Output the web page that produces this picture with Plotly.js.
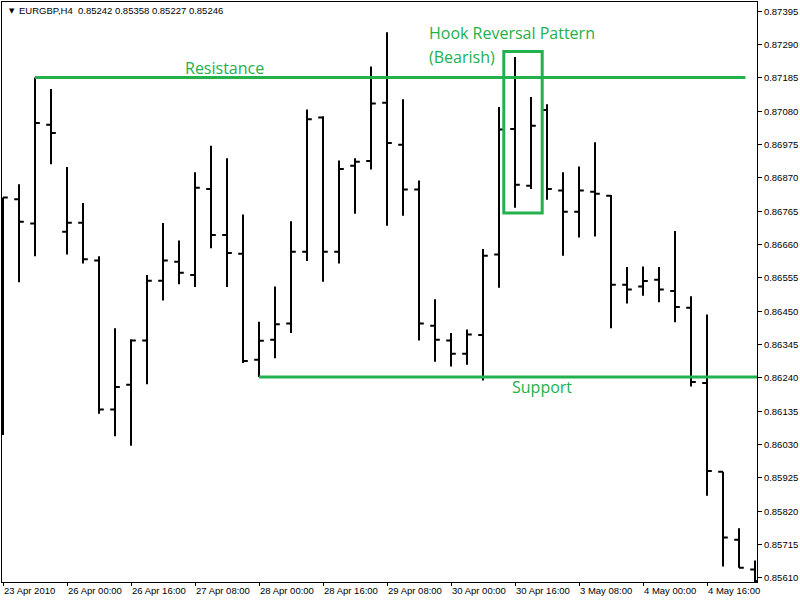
<!DOCTYPE html>
<html>
<head>
<meta charset="utf-8">
<script src="https://cdn.plot.ly/plotly-3.0.1.min.js"></script>
<style>
  html, body { margin: 0; padding: 0; background: #fff; }
  #chart { width: 800px; height: 600px; }
</style>
</head>
<body>
<div id="chart"></div>
<script>
/* EURGBP H4 bar chart, 23 Apr - 4 May 2010, with the
   support / resistance levels and the bearish hook marked. */
(function () {
  "use strict";

  /* ---- bars, one per 4 hours ---- */
  var OPEN  = [0.86790, 0.86803, 0.86726, 0.87037, 0.86700, 0.86729, 0.86610, 0.86140, 0.86218, 0.86358,
               0.86546, 0.86606, 0.86564, 0.86835, 0.86690, 0.86631, 0.86297, 0.86360, 0.86411, 0.86637,
               0.87060, 0.86637, 0.86908, 0.86923, 0.87107, 0.86974, 0.86833, 0.86404, 0.86358, 0.86316,
               0.86375, 0.86629, 0.87024, 0.86845, 0.87084, 0.86830, 0.86763, 0.86826, 0.86814, 0.86533,
               0.86528, 0.86549, 0.86514, 0.86461, 0.86224, 0.85944, 0.85730, 0.85636];
  var HIGH  = [0.86808, 0.86850, 0.87186, 0.87150, 0.86904, 0.86791, 0.86623, 0.86396, 0.86362, 0.86564,
               0.86728, 0.86673, 0.86888, 0.86971, 0.86932, 0.86755, 0.86417, 0.86528, 0.86733, 0.87085,
               0.87064, 0.86925, 0.86932, 0.87221, 0.87329, 0.87118, 0.86862, 0.86488, 0.86381, 0.86392,
               0.86646, 0.87093, 0.87251, 0.87125, 0.87102, 0.86888, 0.86906, 0.86982, 0.86816, 0.86589,
               0.86591, 0.86589, 0.86703, 0.86497, 0.86440, 0.85944, 0.85766, 0.85665];
  var LOW   = [0.86060, 0.86541, 0.86623, 0.86913, 0.86629, 0.86600, 0.86127, 0.86056, 0.86026, 0.86220,
               0.86484, 0.86535, 0.86526, 0.86648, 0.86526, 0.86287, 0.86243, 0.86302, 0.86381, 0.86608,
               0.86543, 0.86600, 0.86757, 0.86896, 0.86719, 0.86751, 0.86358, 0.86291, 0.86276, 0.86281,
               0.86232, 0.86524, 0.86776, 0.86835, 0.86801, 0.86625, 0.86682, 0.86685, 0.86396, 0.86474,
               0.86499, 0.86478, 0.86415, 0.86213, 0.85869, 0.85646, 0.85642, 0.85580];
  var CLOSE = [0.86808, 0.86732, 0.87043, 0.87011, 0.86729, 0.86614, 0.86140, 0.86211, 0.86358, 0.86546,
               0.86610, 0.86571, 0.86839, 0.86690, 0.86633, 0.86293, 0.86357, 0.86409, 0.86637, 0.87055,
               0.86637, 0.86898, 0.86921, 0.87104, 0.86980, 0.86833, 0.86411, 0.86360, 0.86316, 0.86377,
               0.86625, 0.87022, 0.86848, 0.87034, 0.86835, 0.86763, 0.86830, 0.86820, 0.86533, 0.86518,
               0.86545, 0.86518, 0.86463, 0.86227, 0.85947, 0.85737, 0.85642, 0.85600];

  /* ---- time axis: a label every 4th bar ---- */
  var TICK_LABELS = ["23 Apr 2010", "26 Apr 00:00", "26 Apr 16:00", "27 Apr 08:00", "28 Apr 00:00",
                     "28 Apr 16:00", "29 Apr 08:00", "30 Apr 00:00", "30 Apr 16:00", "3 May 08:00",
                     "4 May 00:00", "4 May 16:00"];
  var TICK_EVERY = 4;

  /* ---- price scale ---- */
  var PRICE_TICK0 = 0.85610;
  var PRICE_STEP = 0.00105;

  /* ---- marked levels and pattern ---- */
  var RESISTANCE = 0.87186;
  var SUPPORT = 0.86243;
  var RES_FROM = 2;     // bar where the resistance line starts
  var SUP_FROM = 16;    // bar where the support line starts
  var HOOK = [32, 33];  // the two hook bars

  var HEADER = "EURGBP,H4  0.85242 0.85358 0.85227 0.85246";

  var GREEN = "#22B14C";
  var AXFONT = { family: "Liberation Sans, Arial, sans-serif", size: 9.5, color: "#000" };
  var NOTEFONT = { family: "Open Sans, sans-serif", size: 16, color: GREEN };

  var xs = OPEN.map(function (_, i) { return i; });
  var tickVals = TICK_LABELS.map(function (_, i) { return i * TICK_EVERY; });

  var trace = {
    type: "ohlc", x: xs, open: OPEN, high: HIGH, low: LOW, close: CLOSE,
    line: { width: 2 }, tickwidth: 0.3,
    increasing: { line: { color: "#000", width: 2 } },
    decreasing: { line: { color: "#000", width: 2 } },
    hoverinfo: "skip", showlegend: false
  };

  var hookHi = Math.max(HIGH[HOOK[0]], HIGH[HOOK[1]]);
  var hookLo = Math.min(LOW[HOOK[0]], LOW[HOOK[1]]);
  var pad = 0.00017;

  var layout = {
    width: 800, height: 600,
    margin: { l: 2, r: 43, t: 2, b: 18, pad: 0 },
    paper_bgcolor: "#fff", plot_bgcolor: "#fff",
    font: AXFONT,
    showlegend: false,
    xaxis: {
      type: "linear", range: [-0.0625, 47.125],
      rangeslider: { visible: false },
      showgrid: false, zeroline: false,
      showline: true, linecolor: "#000", linewidth: 1, mirror: true,
      tickmode: "array", tickvals: tickVals, ticktext: TICK_LABELS,
      ticks: "outside", ticklen: 3, tickcolor: "#000",
      ticklabelposition: "outside right",
      tickfont: AXFONT, automargin: false, fixedrange: true
    },
    yaxis: {
      side: "right", range: [0.85597, 0.87424],
      showgrid: false, zeroline: false,
      showline: true, linecolor: "#000", linewidth: 1, mirror: true,
      tick0: PRICE_TICK0, dtick: PRICE_STEP, tickformat: ".5f",
      ticks: "outside", ticklen: 4, tickcolor: "#000",
      tickfont: AXFONT, automargin: false, fixedrange: true
    },
    shapes: [
      { type: "line", xref: "x", yref: "y", x0: RES_FROM, x1: 46.4, y0: RESISTANCE, y1: RESISTANCE,
        line: { color: GREEN, width: 3 } },
      { type: "line", xref: "x", yref: "y", x0: SUP_FROM, x1: 47.125, y0: SUPPORT, y1: SUPPORT,
        line: { color: GREEN, width: 3 } },
      { type: "rect", xref: "x", yref: "y", x0: HOOK[0] - 0.7, x1: HOOK[1] + 0.7,
        y0: hookLo - pad, y1: hookHi + pad, line: { color: GREEN, width: 3 } }
    ],
    annotations: [
      { xref: "paper", yref: "paper", x: 0.006, y: 0.9845, xanchor: "left", yanchor: "middle",
        text: "▼", showarrow: false, font: { family: "DejaVu Sans", size: 7, color: "#000" } },
      { xref: "paper", yref: "paper", x: 0.0195, y: 0.9845, xanchor: "left", yanchor: "middle",
        text: HEADER, showarrow: false, font: AXFONT },
      { xref: "x", yref: "y", x: 11.25, y: RESISTANCE, yshift: 10, xanchor: "left", yanchor: "middle",
        text: "Resistance", showarrow: false, font: NOTEFONT },
      { xref: "x", yref: "y", x: 31.68, y: SUPPORT, yshift: -10.5, xanchor: "left", yanchor: "middle",
        text: "Support", showarrow: false, font: NOTEFONT },
      { xref: "x", yref: "y", x: 26.48, y: hookHi + pad, yshift: 19, xanchor: "left", yanchor: "middle",
        text: "Hook Reversal Pattern", showarrow: false, font: NOTEFONT },
      { xref: "x", yref: "y", x: 26.48, y: hookHi + pad, yshift: -5, xanchor: "left", yanchor: "middle",
        text: "(Bearish)", showarrow: false, font: NOTEFONT }
    ]
  };

  Plotly.newPlot("chart", [trace], layout, { displayModeBar: false, staticPlot: true });
})();
</script>
</body>
</html>
